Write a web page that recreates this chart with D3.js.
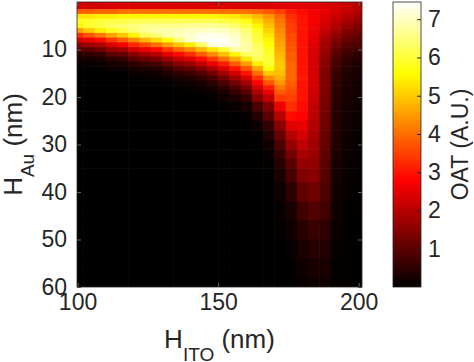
<!DOCTYPE html>
<html>
<head>
<meta charset="utf-8">
<script src="https://cdn.jsdelivr.net/npm/d3@7"></script>
<style>
body { margin: 0; background: #fff; }
text { font-family: "Liberation Sans", Arial, Helvetica, sans-serif; fill: #262626; }
</style>
</head>
<body>
<div id="chart"></div>
<script>
// H_ITO (nm) column centres, H_Au (nm) row centres
var hIto = [100,104,108,112,116,120,124,128,132,136,140,144,148,152,156,160,164,168,172,176,180,184,188,192,196,200];
var hAu = [1,2,3,4,5,6,7,8,9,10,11,12,13,14,15,16,17,18,19,20,22,24,26,28,30,32,34,36,40,44,48,52,56,60];

// OAT (A.U.), one row per H_Au value
var oat = [
  [2.3,2.3,2.3,2.4,2.4,2.4,2.4,2.4,2.4,2.4,2.4,2.4,2.4,2.4,2.4,2.4,2.4,2.4,2.5,2.5,2.5,2.5,2.4,2.3,2.2,2.0],
  [3.8,3.8,3.9,3.9,4.0,4.0,4.0,4.0,4.0,4.0,4.0,4.0,4.0,4.0,4.0,4.0,3.9,3.7,3.5,3.1,2.9,2.7,2.5,2.35,2.15,1.95],
  [5.3,5.3,5.4,5.4,5.5,5.5,5.5,5.5,5.5,5.5,5.5,5.5,5.5,5.4,5.3,5.1,4.8,4.4,3.9,3.3,3.0,2.7,2.45,2.25,2.0,1.8],
  [5.8,5.9,6.0,6.1,6.1,6.2,6.2,6.2,6.2,6.2,6.2,6.2,6.2,6.1,6.0,5.7,5.2,4.7,4.1,3.4,3.0,2.7,2.4,2.1,1.85,1.6],
  [5.5,5.9,6.1,6.3,6.4,6.5,6.6,6.6,6.6,6.6,6.7,6.7,6.7,6.6,6.4,6.1,5.5,4.9,4.2,3.5,3.0,2.65,2.3,1.95,1.65,1.4],
  [4.5,5.0,5.4,5.8,6.1,6.4,6.7,6.8,6.85,6.9,6.95,7.0,7.05,7.0,6.8,6.4,5.8,5.1,4.3,3.5,3.0,2.6,2.15,1.8,1.45,1.25],
  [3.3,3.7,4.1,4.6,5.0,5.5,6.2,6.5,6.8,6.95,7.1,7.3,7.3,7.2,7.0,6.6,6.0,5.3,4.4,3.6,3.0,2.55,2.0,1.6,1.3,1.1],
  [2.3,2.6,2.9,3.4,3.8,4.3,4.8,5.2,5.6,6.5,7.1,7.35,7.45,7.4,7.15,6.7,6.1,5.5,4.5,3.6,3.0,2.5,1.85,1.4,1.1,0.95],
  [1.5,1.7,1.9,2.4,2.7,3.2,3.6,4.0,4.5,5.0,5.4,6.3,7.2,7.3,7.2,6.8,6.25,5.6,4.6,3.7,3.0,2.45,1.75,1.25,0.95,0.82],
  [0.9,1.0,1.2,1.6,1.8,2.3,2.6,2.9,3.4,3.9,4.3,4.8,5.3,6.0,6.8,6.8,6.35,5.8,4.7,3.7,3.0,2.4,1.7,1.1,0.82,0.7],
  [0.45,0.5,0.6,1.0,1.1,1.5,1.8,2.0,2.5,2.9,3.3,3.8,4.3,4.9,5.5,6.3,6.4,5.9,4.8,3.8,3.0,2.35,1.6,0.95,0.65,0.5],
  [0.2,0.25,0.3,0.5,0.6,0.95,1.15,1.3,1.7,2.1,2.4,2.9,3.4,4.0,4.6,5.3,6.2,6.0,4.9,3.8,3.0,2.3,1.55,0.85,0.55,0.42],
  [0.08,0.1,0.13,0.25,0.3,0.5,0.65,0.75,1.1,1.45,1.7,2.1,2.6,3.1,3.8,4.5,5.4,6.0,5.0,3.9,3.0,2.3,1.5,0.75,0.45,0.35],
  [0.02,0.03,0.04,0.1,0.14,0.25,0.33,0.4,0.6,0.9,1.1,1.4,1.85,2.4,3.0,3.7,4.6,5.6,5.0,3.9,3.0,2.3,1.45,0.7,0.4,0.3],
  [0,0,0,0.03,0.05,0.1,0.15,0.2,0.32,0.5,0.65,0.9,1.25,1.8,2.3,3.0,4.0,5.0,4.9,3.9,3.0,2.3,1.4,0.62,0.35,0.26],
  [0,0,0,0,0,0.04,0.06,0.09,0.15,0.3,0.35,0.5,0.8,1.25,1.75,2.35,3.3,4.3,4.7,3.9,3.1,2.3,1.4,0.58,0.32,0.22],
  [0,0,0,0,0,0,0.02,0.03,0.06,0.13,0.17,0.3,0.48,0.8,1.25,1.8,2.8,3.7,4.4,3.8,3.0,2.3,1.4,0.55,0.3,0.2],
  [0,0,0,0,0,0,0,0,0.02,0.05,0.08,0.15,0.27,0.5,0.85,1.3,2.3,3.1,4.1,3.7,3.0,2.3,1.4,0.52,0.28,0.18],
  [0,0,0,0,0,0,0,0,0,0.02,0.03,0.07,0.13,0.3,0.55,0.95,1.9,2.6,3.8,3.6,3.0,2.25,1.4,0.5,0.26,0.17],
  [0,0,0,0,0,0,0,0,0,0,0,0.03,0.05,0.15,0.33,0.6,1.5,2.1,3.4,3.5,3.0,2.2,1.35,0.48,0.25,0.16],
  [0,0,0,0,0,0,0,0,0,0,0,0,0,0.04,0.1,0.25,0.8,1.4,2.6,3.3,2.9,2.1,1.3,0.45,0.22,0.14],
  [0,0,0,0,0,0,0,0,0,0,0,0,0,0,0.02,0.08,0.4,1.0,2.0,2.9,2.8,2.05,1.25,0.42,0.2,0.12],
  [0,0,0,0,0,0,0,0,0,0,0,0,0,0,0,0.02,0.15,0.6,1.5,2.45,2.55,1.95,1.2,0.4,0.18,0.11],
  [0,0,0,0,0,0,0,0,0,0,0,0,0,0,0,0,0.06,0.35,1.15,2.0,2.35,1.85,1.15,0.37,0.16,0.1],
  [0,0,0,0,0,0,0,0,0,0,0,0,0,0,0,0,0.02,0.2,0.84,1.65,2.1,1.75,1.1,0.34,0.15,0.09],
  [0,0,0,0,0,0,0,0,0,0,0,0,0,0,0,0,0,0.1,0.6,1.3,1.85,1.7,1.05,0.3,0.13,0.08],
  [0,0,0,0,0,0,0,0,0,0,0,0,0,0,0,0,0,0.05,0.43,1.0,1.6,1.6,1.0,0.27,0.12,0.07],
  [0,0,0,0,0,0,0,0,0,0,0,0,0,0,0,0,0,0.02,0.3,0.8,1.4,1.5,0.95,0.25,0.1,0.06],
  [0,0,0,0,0,0,0,0,0,0,0,0,0,0,0,0,0,0,0.16,0.5,1.05,1.2,0.85,0.21,0.08,0.05],
  [0,0,0,0,0,0,0,0,0,0,0,0,0,0,0,0,0,0,0.08,0.3,0.7,0.9,0.7,0.17,0.06,0.04],
  [0,0,0,0,0,0,0,0,0,0,0,0,0,0,0,0,0,0,0.03,0.16,0.45,0.62,0.52,0.12,0.05,0.03],
  [0,0,0,0,0,0,0,0,0,0,0,0,0,0,0,0,0,0,0,0.08,0.28,0.42,0.38,0.09,0.04,0.02],
  [0,0,0,0,0,0,0,0,0,0,0,0,0,0,0,0,0,0,0,0.04,0.16,0.26,0.26,0.06,0.03,0.01],
  [0,0,0,0,0,0,0,0,0,0,0,0,0,0,0,0,0,0,0,0.02,0.09,0.16,0.17,0.04,0.02,0.01]
];

var xTicks = [100, 150, 200];
var yTicks = [10, 20, 30, 40, 50, 60];
var cTicks = [1, 2, 3, 4, 5, 6, 7];
var cMax = 7.45;

var svg = d3.select("#chart").append("svg")
	.attr("width", 474)
	.attr("height", 362);

var x = d3.scaleLinear().domain([99.8, 201.2]).range([77, 362]);
var y = d3.scaleLinear().domain([0, 60]).range([2, 287]);
var cy = d3.scaleLinear().domain([0, cMax]).range([287, 2]);

// matlab "hot" colormap
var hot = d3.scaleLinear()
	.domain([0, 0.375 * cMax, 0.75 * cMax, cMax])
	.range(["#000000", "#ff0000", "#ffff00", "#ffffff"])
	.clamp(true);

function edges(centres, lo, hi) {
	return centres.map(function(v, i) {
		var a = i == 0 ? lo : (centres[i - 1] + v) / 2;
		var b = i == centres.length - 1 ? hi : (v + centres[i + 1]) / 2;
		return [a, b];
	});
}
var xe = edges(hIto, x.domain()[0], x.domain()[1]);
var ye = edges(hAu, 0, 60);

var cells = [];
oat.forEach(function(row, j) {
	row.forEach(function(v, i) {
		cells.push({i: i, j: j, v: v});
	});
});

var defs = svg.append("defs");
defs.append("clipPath").attr("id", "plotclip")
	.append("rect")
	.attr("x", x.range()[0]).attr("y", y.range()[0])
	.attr("width", x.range()[1] - x.range()[0])
	.attr("height", y.range()[1] - y.range()[0]);

svg.append("g")
	.attr("clip-path", "url(#plotclip)")
	.selectAll("rect")
	.data(cells)
	.enter().append("rect")
	.attr("x", function(d) { return x(xe[d.i][0]); })
	.attr("y", function(d) { return y(ye[d.j][0]); })
	.attr("width", function(d) { return x(xe[d.i][1]) - x(xe[d.i][0]) + 0.6; })
	.attr("height", function(d) { return y(ye[d.j][1]) - y(ye[d.j][0]) + 0.6; })
	.attr("fill", function(d) { return hot(d.v); });

// axes, ticks pointing inwards
function styleAxis(g) {
	g.select(".domain").remove();
	g.selectAll(".tick line").attr("stroke", "#666");
	g.selectAll(".tick text").attr("font-size", 23).attr("fill", "#262626");
}

svg.append("g")
	.attr("transform", "translate(0," + y.range()[1] + ")")
	.call(d3.axisBottom(x).tickValues(xTicks).tickSizeInner(-4).tickSizeOuter(0).tickPadding(7))
	.call(styleAxis);
svg.append("g")
	.attr("transform", "translate(0," + y.range()[0] + ")")
	.call(d3.axisTop(x).tickValues(xTicks).tickSizeInner(-4).tickSizeOuter(0).tickFormat(""))
	.call(styleAxis);
svg.append("g")
	.attr("transform", "translate(" + x.range()[0] + ",0)")
	.call(d3.axisLeft(y).tickValues(yTicks).tickSizeInner(-4).tickSizeOuter(0).tickPadding(10))
	.call(styleAxis);
svg.append("g")
	.attr("transform", "translate(" + x.range()[1] + ",0)")
	.call(d3.axisRight(y).tickValues(yTicks).tickSizeInner(-4).tickSizeOuter(0).tickFormat(""))
	.call(styleAxis);

svg.append("rect")
	.attr("x", x.range()[0]).attr("y", y.range()[0])
	.attr("width", x.range()[1] - x.range()[0])
	.attr("height", y.range()[1] - y.range()[0])
	.attr("fill", "none")
	.attr("stroke", "#262626")
	.attr("stroke-width", 0.8);

// colorbar
var grad = defs.append("linearGradient")
	.attr("id", "hotgrad")
	.attr("x1", 0).attr("y1", 1).attr("x2", 0).attr("y2", 0);
hot.domain().forEach(function(v) {
	grad.append("stop").attr("offset", v / cMax).attr("stop-color", hot(v));
});

var cbX = 393, cbW = 28;
svg.append("rect")
	.attr("x", cbX).attr("y", cy.range()[1])
	.attr("width", cbW)
	.attr("height", cy.range()[0] - cy.range()[1])
	.attr("fill", "url(#hotgrad)")
	.attr("stroke", "#262626")
	.attr("stroke-width", 0.8);

svg.append("g")
	.attr("transform", "translate(" + (cbX + cbW) + ",0)")
	.call(d3.axisRight(cy).tickValues(cTicks).tickSizeInner(-4).tickSizeOuter(0).tickPadding(7))
	.call(styleAxis)
	.selectAll(".tick line").attr("stroke", "#262626");

// labels
var xl = svg.append("text")
	.attr("x", (x.range()[0] + x.range()[1]) / 2)
	.attr("y", 348)
	.attr("text-anchor", "middle")
	.attr("font-size", 26);
xl.append("tspan").text("H");
xl.append("tspan").attr("font-size", 19).attr("dy", 13).text("ITO");
xl.append("tspan").attr("dy", -13).text(" (nm)");

var yl = svg.append("text")
	.attr("transform", "translate(22," + (y.range()[0] + y.range()[1]) / 2 + ") rotate(-90)")
	.attr("text-anchor", "middle")
	.attr("font-size", 26);
yl.append("tspan").text("H");
yl.append("tspan").attr("font-size", 19).attr("dy", 12).text("Au");
yl.append("tspan").attr("dy", -12).text(" (nm)");

svg.append("text")
	.attr("transform", "translate(468," + (cy.range()[0] + cy.range()[1]) / 2 + ") rotate(-90)")
	.attr("text-anchor", "middle")
	.attr("font-size", 23)
	.text("OAT (A.U.)");
</script>
</body>
</html>
